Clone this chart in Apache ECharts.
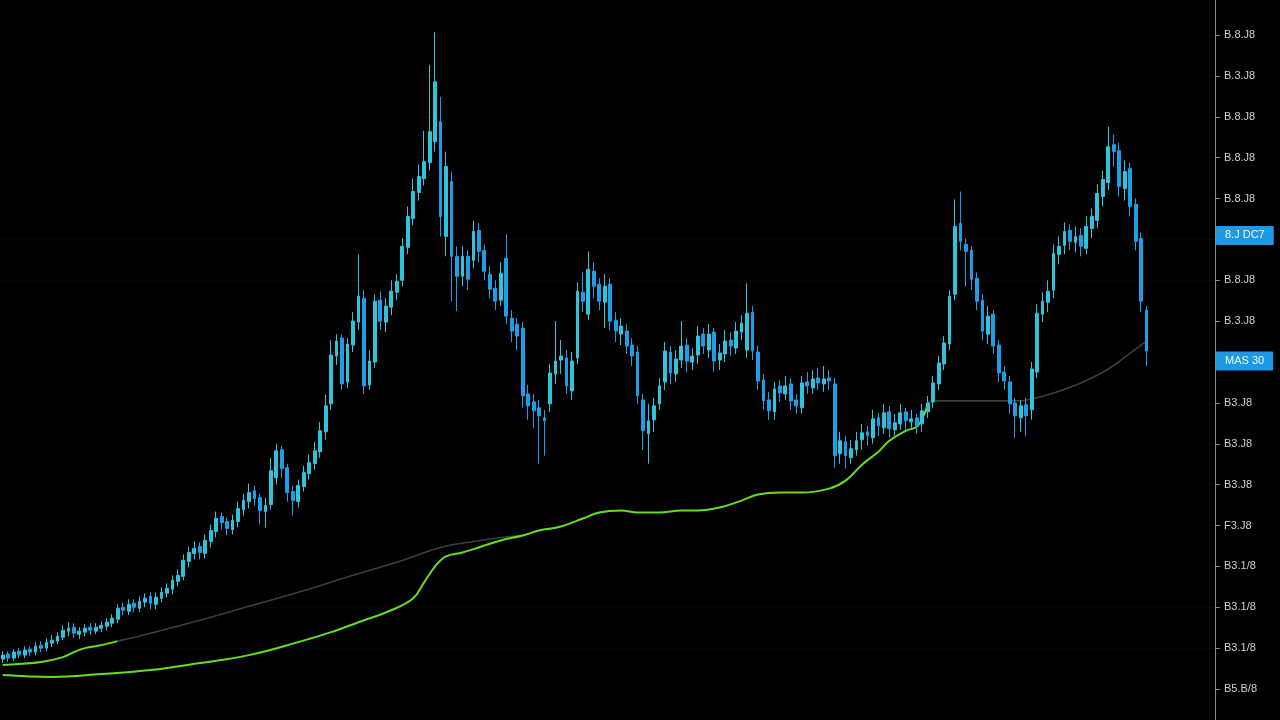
<!DOCTYPE html>
<html>
<head>
<meta charset="utf-8">
<script src="https://cdn.jsdelivr.net/npm/echarts@6/dist/echarts.min.js"></script>
<style>
html,body{margin:0;padding:0;background:#000;}
#chart{width:1280px;height:720px;}
</style>
</head>
<body>
<div id="chart"></div>
<script>
// ---- candle values (open / close / low / high) ----
const openV = [
30,35,31,38,34,40,37,44,41,46, 48,52,58,62,55,57,62,58,61,63,
66,70,82,78,86,81,87,93,85,91, 96,100,108,113,128,136,143,136,148,158,
173,168,160,168,180,188,199,192,178,185, 212,240,222,198,188,203,216,226,238,258,
286,334,352,308,345,368,392,305,328,390, 368,383,398,410,443,472,498,512,528,549,
569,454,509,434,414,434,430,460,440,416, 402,390,432,372,366,362,296,288,282,272,
286,316,330,332,299,332,398,376,419,406, 388,406,370,356,359,345,338,290,256,270,
286,308,338,316,330,345,328,335,356,340, 358,330,336,350,342,358,340,378,338,310,
290,278,304,296,306,290,282,308,302,312, 306,312,306,236,248,232,240,250,258,252,
272,262,278,260,266,278,268,272,266,278, 288,306,326,346,396,467,446,440,412,390,
356,376,345,318,308,287,272,285,280,318, 376,388,400,436,445,460,448,455,442,462,
470,494,508,546,540,502,522,486,452,380
];
const closeV = [
34,31,37,34,39,37,43,41,47,49, 53,59,61,56,58,61,59,62,64,67,
71,81,79,85,82,88,91,86,92,97, 101,109,114,129,137,141,137,149,159,171,
167,161,169,181,189,197,191,179,184,219, 239,221,197,189,204,217,227,239,259,284,
335,349,306,346,369,394,304,329,389,369, 384,399,409,444,474,499,514,529,559,609,
474,524,434,414,434,411,459,439,419,401, 389,417,374,359,354,294,284,279,274,269,
317,329,334,304,329,399,389,421,404,389, 404,369,359,364,344,334,294,259,269,284,
304,339,317,331,344,329,334,354,344,356, 329,337,349,344,359,367,377,339,309,289,
279,301,297,304,289,284,307,304,311,307, 311,309,234,249,234,241,249,257,254,271,
264,277,261,267,277,269,271,264,279,287, 307,327,347,394,464,449,439,411,389,359,
374,344,317,309,286,274,284,274,321,377, 389,399,437,444,459,449,454,444,464,474,
497,511,544,539,504,519,484,449,389,339
];
const lowV = [
26,27,28,31,31,33,34,37,38,42, 45,49,53,51,50,53,54,55,57,59,
62,66,74,74,77,77,82,80,80,87, 92,95,103,109,122,130,130,131,142,152,
160,154,155,162,174,181,184,165,162,180, 205,212,188,174,182,198,210,220,232,250,
280,325,300,302,338,360,296,300,322,360, 358,375,390,404,436,465,490,505,520,539,
454,434,389,379,404,400,422,428,410,392, 380,384,366,348,340,282,270,262,226,234,
278,306,316,296,290,326,378,370,392,380, 362,360,348,345,336,324,286,240,226,258,
280,300,306,308,322,318,320,326,336,332, 318,320,328,334,336,350,332,330,300,280,
270,270,288,290,280,276,276,296,296,300, 298,300,222,226,221,226,234,240,244,246,
254,256,252,254,260,260,262,256,258,272, 282,300,320,340,390,440,404,400,380,350,
346,336,308,300,276,252,258,254,270,312, 368,378,392,426,436,440,438,434,436,452,
462,484,500,524,494,490,474,440,378,324
];
const highV = [
38,38,40,41,43,43,47,48,51,54, 57,64,67,66,62,65,66,66,68,71,
75,85,87,90,90,93,96,97,97,102, 106,114,120,135,143,148,147,155,165,178,
177,172,175,188,196,206,204,196,192,232, 246,244,226,204,210,224,235,248,268,295,
350,356,356,352,378,436,400,340,396,399, 392,410,416,452,484,512,526,560,626,659,
594,539,519,444,444,440,470,468,446,424, 410,428,456,380,372,368,305,296,290,280,
326,369,350,340,338,408,418,439,428,412, 416,412,378,372,366,352,344,296,286,292,
312,348,344,340,369,352,342,364,362,366, 362,346,360,358,368,375,407,384,344,316,
298,308,310,314,312,296,314,318,320,322, 324,320,312,258,254,250,258,266,264,280,
277,286,284,276,286,282,280,276,286,294, 314,334,354,400,491,499,452,444,418,396,
384,380,350,324,314,292,290,292,328,386, 398,410,446,454,468,466,464,462,474,482,
506,520,564,556,548,530,528,492,458,384
];

// empty slots to the right of the last candle
const trailingSlots = 12;
const categories = Array.from({length: openV.length + trailingSlots}, (_, i) => 'P' + (i + 1));

// moving-average lines: [candle index, value], green part then grey part
const maFastGreen = [[0,24],[3,25],[7,27],[11,32],[13,37],[15,41],[18,44],[21,48]];
const maFastGrey = [[21,48],[27,56],[36,69],[45,83],[54,97],[64,114],[73,129],[80,142],[86,148],[91,152],[95,154]];
const maSlowGreen = [[0,14],[9,12],[18,15],[27,19],[36,26],[45,34],[54,47],[60,57],[65,67],[71,79],[75,91],[77,107],[79,123],[81,133],[84,137],[87,142],[91,149],[95,154],[98,159],[102,163],[106,171],[109,177],[113,179],[116,177],[120,177],[124,179],[127,179],[131,182],[135,189],[138,195],[142,197],[146,197],[151,201],[154,209],[157,225],[160,238],[162,249],[165,259],[167,263],[168,271],[169,285]];
const maSlowGrey = [[169,285],[170,289],[175,289],[180,289],[186,289],[188,291],[192,297],[197,307],[202,321],[206,337],[209,349]];

// right axis tick labels (bottom -> top) and price tags
const tickStep = 41;
const tickLabels = ['B5.B/8','B3.1/8','B3.1/8','B3.1/8','F3.J8','B3.J8','B3.J8','B3.J8','','B.3.J8','B.8.J8','','B.8.J8','B.8.J8','B.8.J8','B.3.J8','B.8.J8'];
const priceTagValues = [455, 329];
const priceTagTexts = ['8.J DC7', 'MAS 30'];

const green = '#66dd22';
const grey = '#3e3e3e';
const upColor = '#2ec4dc';
const downColor = '#1c9fe6';

function maSeries(data, color, width) {
  return {
    type: 'line', xAxisIndex: 0, yAxisIndex: 0, data: data, smooth: 0.4,
    showSymbol: false, lineStyle: {width: width, color: color}, itemStyle: {color: color}, z: 3
  };
}

const chart = echarts.init(document.getElementById('chart'), null, {renderer: 'canvas'});
chart.setOption({
  backgroundColor: '#000000',
  animation: false,
  textStyle: {fontFamily: 'Liberation Sans, DejaVu Sans, sans-serif'},
  grid: [
    {left: 0, right: 65, top: 35, bottom: 31},
    {left: 0, right: 65, top: 0, bottom: 0}
  ],
  xAxis: [
    {type: 'category', gridIndex: 0, data: categories, show: false, boundaryGap: true},
    {type: 'category', gridIndex: 1, data: ['a'], show: false}
  ],
  yAxis: [
    {
      type: 'value', gridIndex: 0, position: 'right', min: 0, max: tickStep * 16, interval: tickStep,
      axisLine: {show: false},
      axisTick: {show: true, length: 5, lineStyle: {color: '#8a8a8a'}},
      axisLabel: {
        color: '#cfcfcf', fontSize: 11, margin: 9,
        formatter: v => { const k = Math.round(v / tickStep); return tickLabels[k] !== undefined ? tickLabels[k] : ''; }
      },
      splitLine: {show: true, lineStyle: {color: '#070707'}}
    },
    {
      type: 'value', gridIndex: 1, position: 'right', min: 0, max: 1,
      axisLine: {show: true, onZero: false, lineStyle: {color: '#8a8a8a', width: 1}},
      axisTick: {show: false}, axisLabel: {show: false}, splitLine: {show: false}
    }
  ],
  series: [
    {
      type: 'candlestick', xAxisIndex: 0, yAxisIndex: 0, clip: false, z: 5,
      barWidth: '60%',
      data: openV.map((o, i) => [o, closeV[i], lowV[i], highV[i]]),
      itemStyle: {color: upColor, color0: downColor, borderColor: upColor, borderColor0: downColor, borderWidth: 1},
      markLine: {
        silent: true, symbol: 'none',
        lineStyle: {color: 'rgba(0,0,0,0)', width: 0},
        label: {
          show: true, position: 'end', distance: 1,
          backgroundColor: '#1d9ae4', color: '#eaf7ff', fontSize: 11,
          padding: [4, 9, 4, 9], borderRadius: 1
        },
        data: priceTagValues.map((v, i) => ({yAxis: v, label: {formatter: priceTagTexts[i]}}))
      }
    },
    maSeries(maFastGreen, green, 2),
    maSeries(maFastGrey, grey, 1.6),
    maSeries(maSlowGreen, green, 2),
    maSeries(maSlowGrey, grey, 1.6)
  ]
});
</script>
</body>
</html>
